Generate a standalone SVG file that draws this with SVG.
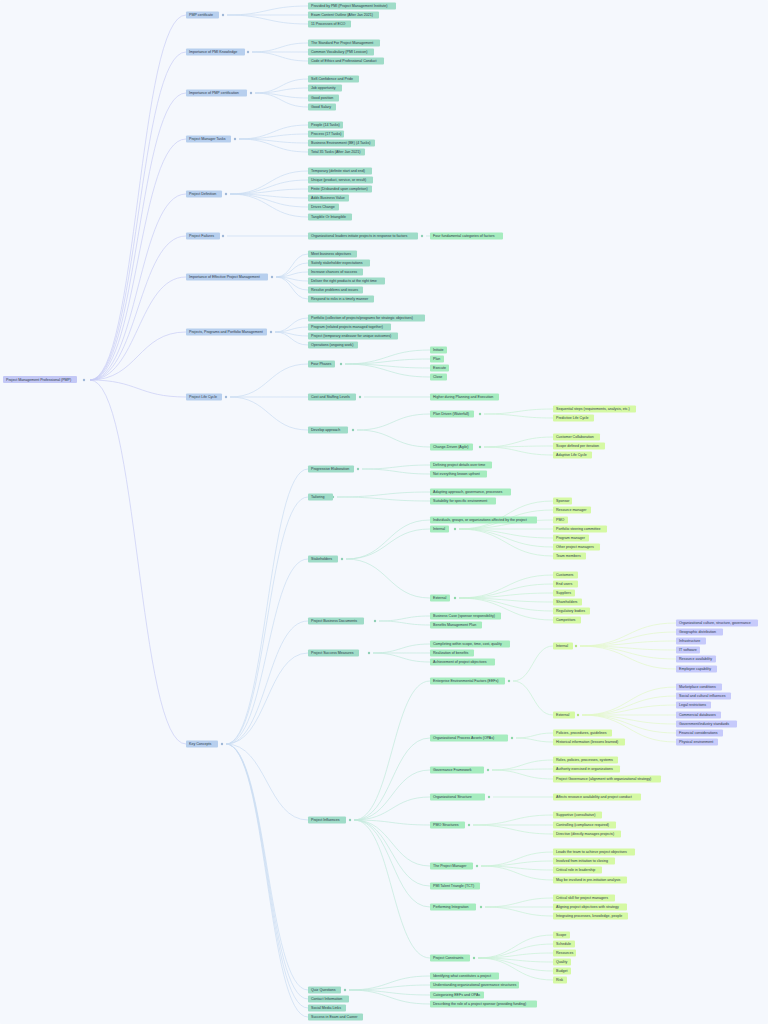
<svg xmlns="http://www.w3.org/2000/svg" width="768" height="1024" viewBox="0 0 768 1024">
<style>
text{font-family:"Liberation Sans",Arial,sans-serif;font-size:3.6px;fill:#2d3a4a}
rect{rx:1;ry:1;height:7px}
.r{fill:#c3c8f6}.b{fill:#b7cfee}.t{fill:#9fdcc8}.g{fill:#a6ecbf}.l{fill:#d5f9a4}.v{fill:#c6cafb}
#connectors path{fill:none;stroke-width:0.7}
.c0{stroke:#c9cdf5}.c1{stroke:#cadcf2}.c2{stroke:#c2eadb}.c3{stroke:#c8f0d6}.c4{stroke:#e2f8c9}
.d{fill:#9fb8d8}.dt{fill:#8fcfb6}.dg{fill:#8ed8a8}.dl{fill:#b6e37e}
</style>
<rect x="0" y="0" width="768" height="1024" style="height:1024px" fill="#f5f8fd"/>
<g id="connectors">
<g class="c0">
<path d="M90 380C138 380 138 15 186 15"/><path d="M90 380C138 380 138 52 186 52"/><path d="M90 380C138 380 138 93 186 93"/><path d="M90 380C138 380 138 139 186 139"/><path d="M90 380C138 380 138 194 186 194"/><path d="M90 380C138 380 138 236 186 236"/><path d="M90 380C138 380 138 277 186 277"/><path d="M90 380C138 380 138 332 186 332"/><path d="M90 380C138 380 138 397 186 397"/><path d="M90 380C138 380 138 744 186 744"/>
</g>
<g class="c1">
<path d="M227 15C267 15 267 6 308 6"/><path d="M227 15C267 15 267 15 308 15"/><path d="M227 15C267 15 267 24 308 24"/>
<path d="M252 52C280 52 280 43 308 43"/><path d="M252 52C280 52 280 52 308 52"/><path d="M252 52C280 52 280 61 308 61"/>
<path d="M255 93C281 93 281 79 308 79"/><path d="M255 93C281 93 281 88 308 88"/><path d="M255 93C281 93 281 98 308 98"/><path d="M255 93C281 93 281 107 308 107"/>
<path d="M239 139C273 139 273 125 308 125"/><path d="M239 139C273 139 273 134 308 134"/><path d="M239 139C273 139 273 143 308 143"/><path d="M239 139C273 139 273 152 308 152"/>
<path d="M230 194C269 194 269 171 308 171"/><path d="M230 194C269 194 269 180 308 180"/><path d="M230 194C269 194 269 189 308 189"/><path d="M230 194C269 194 269 198 308 198"/><path d="M230 194C269 194 269 207 308 207"/><path d="M230 194C269 194 269 217 308 217"/>
<path d="M227 236L308 236"/>
<path d="M276 277C292 277 292 254 308 254"/><path d="M276 277C292 277 292 263 308 263"/><path d="M276 277C292 277 292 272 308 272"/><path d="M276 277C292 277 292 281 308 281"/><path d="M276 277C292 277 292 290 308 290"/><path d="M276 277C292 277 292 299 308 299"/>
<path d="M275 332C291 332 291 318 308 318"/><path d="M275 332C291 332 291 327 308 327"/><path d="M275 332C291 332 291 336 308 336"/><path d="M275 332C291 332 291 345 308 345"/>
<path d="M230 397C269 397 269 364 308 364"/><path d="M230 397C269 397 269 397 308 397"/><path d="M230 397C269 397 269 430 308 430"/>
<path d="M226 744C267 744 267 469 308 469"/><path d="M226 744C267 744 267 497 308 497"/><path d="M226 744C267 744 267 559 308 559"/><path d="M226 744C267 744 267 621 308 621"/><path d="M226 744C267 744 267 653 308 653"/><path d="M226 744C267 744 267 820 308 820"/><path d="M226 744C267 744 267 990 308 990"/><path d="M226 744C267 744 267 999 308 999"/><path d="M226 744C267 744 267 1008 308 1008"/><path d="M226 744C267 744 267 1017 308 1017"/>
</g>
<g class="c2">
<path d="M426 236L430 236"/>
<path d="M345 364C387 364 387 350 430 350"/><path d="M345 364C387 364 387 359 430 359"/><path d="M345 364C387 364 387 368 430 368"/><path d="M345 364C387 364 387 377 430 377"/>
<path d="M364 397L430 397"/>
<path d="M357 430C393 430 393 414 430 414"/><path d="M357 430C393 430 393 447 430 447"/>
<path d="M362 469C396 469 396 465 430 465"/><path d="M362 469C396 469 396 474 430 474"/>
<path d="M337 497C383 497 383 492 430 492"/><path d="M337 497C383 497 383 501 430 501"/>
<path d="M346 559C388 559 388 520 430 520"/><path d="M346 559C388 559 388 529 430 529"/><path d="M346 559C388 559 388 598 430 598"/>
<path d="M379 621C404 621 404 616 430 616"/><path d="M379 621C404 621 404 625 430 625"/>
<path d="M373 653C401 653 401 644 430 644"/><path d="M373 653C401 653 401 653 430 653"/><path d="M373 653C401 653 401 662 430 662"/>
<path d="M354 820C392 820 392 681 430 681"/><path d="M354 820C392 820 392 738 430 738"/><path d="M354 820C392 820 392 770 430 770"/><path d="M354 820C392 820 392 797 430 797"/><path d="M354 820C392 820 392 825 430 825"/><path d="M354 820C392 820 392 866 430 866"/><path d="M354 820C392 820 392 886 430 886"/><path d="M354 820C392 820 392 907 430 907"/><path d="M354 820C392 820 392 958 430 958"/>
<path d="M349 990C389 990 389 976 430 976"/><path d="M349 990C389 990 389 985 430 985"/><path d="M349 990C389 990 389 995 430 995"/><path d="M349 990C389 990 389 1004 430 1004"/>
</g>
<g class="c3">
<path d="M484 414C518 414 518 409 553 409"/><path d="M484 414C518 414 518 418 553 418"/>
<path d="M484 447C518 447 518 437 553 437"/><path d="M484 447C518 447 518 446 553 446"/><path d="M484 447C518 447 518 455 553 455"/>
<path d="M459 529C506 529 506 501 553 501"/><path d="M459 529C506 529 506 510 553 510"/><path d="M459 529C506 529 506 520 553 520"/><path d="M459 529C506 529 506 529 553 529"/><path d="M459 529C506 529 506 538 553 538"/><path d="M459 529C506 529 506 547 553 547"/><path d="M459 529C506 529 506 556 553 556"/>
<path d="M459 598C506 598 506 575 553 575"/><path d="M459 598C506 598 506 584 553 584"/><path d="M459 598C506 598 506 593 553 593"/><path d="M459 598C506 598 506 602 553 602"/><path d="M459 598C506 598 506 611 553 611"/><path d="M459 598C506 598 506 620 553 620"/>
<path d="M513 681C533 681 533 646 553 646"/><path d="M513 681C533 681 533 715 553 715"/>
<path d="M516 738C534 738 534 733 553 733"/><path d="M516 738C534 738 534 742 553 742"/>
<path d="M492 770C522 770 522 760 553 760"/><path d="M492 770C522 770 522 769 553 769"/><path d="M492 770C522 770 522 779 553 779"/>
<path d="M493 797L553 797"/>
<path d="M473 825C513 825 513 815 553 815"/><path d="M473 825C513 825 513 825 553 825"/><path d="M473 825C513 825 513 834 553 834"/>
<path d="M481 866C517 866 517 852 553 852"/><path d="M481 866C517 866 517 861 553 861"/><path d="M481 866C517 866 517 870 553 870"/><path d="M481 866C517 866 517 880 553 880"/>
<path d="M485 907C519 907 519 898 553 898"/><path d="M485 907C519 907 519 907 553 907"/><path d="M485 907C519 907 519 916 553 916"/>
<path d="M478 958C515 958 515 935 553 935"/><path d="M478 958C515 958 515 944 553 944"/><path d="M478 958C515 958 515 953 553 953"/><path d="M478 958C515 958 515 962 553 962"/><path d="M478 958C515 958 515 971 553 971"/><path d="M478 958C515 958 515 980 553 980"/>
</g>
<g class="c4">
<path d="M580 646C628 646 628 623 676 623"/><path d="M580 646C628 646 628 632 676 632"/><path d="M580 646C628 646 628 641 676 641"/><path d="M580 646C628 646 628 650 676 650"/><path d="M580 646C628 646 628 659 676 659"/><path d="M580 646C628 646 628 669 676 669"/>
<path d="M582 715C629 715 629 687 676 687"/><path d="M582 715C629 715 629 696 676 696"/><path d="M582 715C629 715 629 705 676 705"/><path d="M582 715C629 715 629 715 676 715"/><path d="M582 715C629 715 629 724 676 724"/><path d="M582 715C629 715 629 733 676 733"/><path d="M582 715C629 715 629 742 676 742"/>
</g>
<g class="d"><circle cx="84" cy="380" r="1.2"/><circle cx="223" cy="15" r="1.2"/><circle cx="248" cy="52" r="1.2"/><circle cx="251" cy="93" r="1.2"/><circle cx="235" cy="139" r="1.2"/><circle cx="226" cy="194" r="1.2"/><circle cx="223" cy="236" r="1.2"/><circle cx="272" cy="277" r="1.2"/><circle cx="271" cy="332" r="1.2"/><circle cx="226" cy="397" r="1.2"/><circle cx="222" cy="744" r="1.2"/></g>
<g class="dt"><circle cx="422" cy="236" r="1.2"/><circle cx="341" cy="364" r="1.2"/><circle cx="360" cy="397" r="1.2"/><circle cx="353" cy="430" r="1.2"/><circle cx="358" cy="469" r="1.2"/><circle cx="333" cy="497" r="1.2"/><circle cx="342" cy="559" r="1.2"/><circle cx="375" cy="621" r="1.2"/><circle cx="369" cy="653" r="1.2"/><circle cx="350" cy="820" r="1.2"/><circle cx="345" cy="990" r="1.2"/></g>
<g class="dg"><circle cx="480" cy="414" r="1.2"/><circle cx="480" cy="447" r="1.2"/><circle cx="455" cy="529" r="1.2"/><circle cx="455" cy="598" r="1.2"/><circle cx="509" cy="681" r="1.2"/><circle cx="512" cy="738" r="1.2"/><circle cx="488" cy="770" r="1.2"/><circle cx="489" cy="797" r="1.2"/><circle cx="469" cy="825" r="1.2"/><circle cx="477" cy="866" r="1.2"/><circle cx="481" cy="907" r="1.2"/><circle cx="474" cy="958" r="1.2"/></g>
<g class="dl"><circle cx="576" cy="646" r="1.2"/><circle cx="578" cy="715" r="1.2"/></g>
</g>
<g id="root"><rect class="r" x="3" y="376" width="74"/><text x="6" y="380.8">Project Management Professional (PMP)</text></g>
<g id="l1">
<g id="n-cert"><rect class="b" x="186" y="11.5" width="33"/><text x="189" y="16.3">PMP certificate</text></g>
<g id="n-know"><rect class="b" x="186" y="48.5" width="59"/><text x="189" y="53.3">Importance of PMI Knowledge</text></g>
<g id="n-pmpc"><rect class="b" x="186" y="89.5" width="61"/><text x="189" y="94.3">Importance of PMP certification</text></g>
<g id="n-tasks"><rect class="b" x="186" y="135.5" width="45"/><text x="189" y="140.3">Project Manager Tasks</text></g>
<g id="n-def"><rect class="b" x="186" y="190.5" width="36"/><text x="189" y="195.3">Project Definition</text></g>
<g id="n-fail"><rect class="b" x="186" y="232.5" width="34"/><text x="189" y="237.3">Project Failures</text></g>
<g id="n-eff"><rect class="b" x="186" y="273.5" width="82"/><text x="189" y="278.3">Importance of Effective Project Management</text></g>
<g id="n-ppp"><rect class="b" x="186" y="328.5" width="81"/><text x="189" y="333.3">Projects, Programs and Portfolio Management</text></g>
<g id="n-plc"><rect class="b" x="186" y="393.5" width="36"/><text x="189" y="398.3">Project Life Cycle</text></g>
<g id="n-key"><rect class="b" x="186" y="740.5" width="32"/><text x="189" y="745.3">Key Concepts</text></g>
</g>
<g id="l2" class="t">
<g id="a1"><rect class="t" x="308" y="2.5" width="88"/><text x="311" y="7.3">Provided by PMI (Project Management Institute)</text></g>
<g id="a2"><rect class="t" x="308" y="11.5" width="71"/><text x="311" y="16.3">Exam Content Outline (After Jan 2021)</text></g>
<g id="a3"><rect class="t" x="308" y="20.5" width="43"/><text x="311" y="25.3">11 Processes of ECO</text></g>
<g id="b1"><rect class="t" x="308" y="39.5" width="72"/><text x="311" y="44.3">The Standard For Project Management</text></g>
<g id="b2"><rect class="t" x="308" y="48.5" width="66"/><text x="311" y="53.3">Common Vocabulary (PMI Lexicon)</text></g>
<g id="b3"><rect class="t" x="308" y="57.5" width="76"/><text x="311" y="62.3">Code of Ethics and Professional Conduct</text></g>
<g id="c1"><rect class="t" x="308" y="75.5" width="51"/><text x="311" y="80.3">Self-Confidence and Pride</text></g>
<g id="c2"><rect class="t" x="308" y="84.5" width="34"/><text x="311" y="89.3">Job opportunity</text></g>
<g id="c3"><rect class="t" x="308" y="94.5" width="31"/><text x="311" y="99.3">Good position</text></g>
<g id="c4"><rect class="t" x="308" y="103.5" width="28"/><text x="311" y="108.3">Good Salary</text></g>
<g id="d1"><rect class="t" x="308" y="121.5" width="35"/><text x="311" y="126.3">People (14 Tasks)</text></g>
<g id="d2"><rect class="t" x="308" y="130.5" width="36"/><text x="311" y="135.3">Process (17 Tasks)</text></g>
<g id="d3"><rect class="t" x="308" y="139.5" width="67"/><text x="311" y="144.3">Business Environment (BE) (4 Tasks)</text></g>
<g id="d4"><rect class="t" x="308" y="148.5" width="57"/><text x="311" y="153.3">Total 35 Tasks (After Jan 2021)</text></g>
<g id="e1"><rect class="t" x="308" y="167.5" width="64"/><text x="311" y="172.3">Temporary (definite start and end)</text></g>
<g id="e2"><rect class="t" x="308" y="176.5" width="65"/><text x="311" y="181.3">Unique (product, service, or result)</text></g>
<g id="e3"><rect class="t" x="308" y="185.5" width="64"/><text x="311" y="190.3">Finite (Disbanded upon completion)</text></g>
<g id="e4"><rect class="t" x="308" y="194.5" width="41"/><text x="311" y="199.3">Adds Business Value</text></g>
<g id="e5"><rect class="t" x="308" y="203.5" width="31"/><text x="311" y="208.3">Drives Change</text></g>
<g id="e6"><rect class="t" x="308" y="213.5" width="44"/><text x="311" y="218.3">Tangible Or Intangible</text></g>
<g id="f1"><rect class="t" x="308" y="232.5" width="110"/><text x="311" y="237.3">Organizational leaders initiate projects in response to factors</text></g>
<g id="g1"><rect class="t" x="308" y="250.5" width="49"/><text x="311" y="255.3">Meet business objectives</text></g>
<g id="g2"><rect class="t" x="308" y="259.5" width="62"/><text x="311" y="264.3">Satisfy stakeholder expectations</text></g>
<g id="g3"><rect class="t" x="308" y="268.5" width="55"/><text x="311" y="273.3">Increase chances of success</text></g>
<g id="g4"><rect class="t" x="308" y="277.5" width="77"/><text x="311" y="282.3">Deliver the right products at the right time</text></g>
<g id="g5"><rect class="t" x="308" y="286.5" width="55"/><text x="311" y="291.3">Resolve problems and issues</text></g>
<g id="g6"><rect class="t" x="308" y="295.5" width="66"/><text x="311" y="300.3">Respond to risks in a timely manner</text></g>
<g id="h1"><rect class="t" x="308" y="314.5" width="117"/><text x="311" y="319.3">Portfolio (collection of projects/programs for strategic objectives)</text></g>
<g id="h2"><rect class="t" x="308" y="323.5" width="83"/><text x="311" y="328.3">Program (related projects managed together)</text></g>
<g id="h3"><rect class="t" x="308" y="332.5" width="90"/><text x="311" y="337.3">Project (temporary endeavor for unique outcomes)</text></g>
<g id="h4"><rect class="t" x="308" y="341.5" width="50"/><text x="311" y="346.3">Operations (ongoing work)</text></g>
<g id="i1"><rect class="t" x="308" y="360.5" width="27"/><text x="311" y="365.3">Four Phases</text></g>
<g id="i2"><rect class="t" x="308" y="393.5" width="48"/><text x="311" y="398.3">Cost and Staffing Levels</text></g>
<g id="i3"><rect class="t" x="308" y="426.5" width="40"/><text x="311" y="431.3">Develop approach</text></g>
<g id="k1"><rect class="t" x="308" y="465.5" width="46"/><text x="311" y="470.3">Progressive Elaboration</text></g>
<g id="k2"><rect class="t" x="308" y="493.5" width="25"/><text x="311" y="498.3">Tailoring</text></g>
<g id="k3"><rect class="t" x="308" y="555.5" width="30"/><text x="311" y="560.3">Stakeholders</text></g>
<g id="k4"><rect class="t" x="308" y="617.5" width="56"/><text x="311" y="622.3">Project Business Documents</text></g>
<g id="k5"><rect class="t" x="308" y="649.5" width="51"/><text x="311" y="654.3">Project Success Measures</text></g>
<g id="k6"><rect class="t" x="308" y="816.5" width="38"/><text x="311" y="821.3">Project Influences</text></g>
<g id="k7"><rect class="t" x="308" y="986.5" width="33"/><text x="311" y="991.3">Quiz Questions</text></g>
<g id="k8"><rect class="t" x="308" y="995.5" width="41"/><text x="311" y="1000.3">Contact Information</text></g>
<g id="k9"><rect class="t" x="308" y="1004.5" width="38"/><text x="311" y="1009.3">Social Media Links</text></g>
<g id="k10"><rect class="t" x="308" y="1013.5" width="55"/><text x="311" y="1018.3">Success in Exam and Career</text></g>
</g>
<g id="l3">
<g id="m1"><rect class="g" x="430" y="232.5" width="73"/><text x="433" y="237.3">Four fundamental categories of factors</text></g>
<g id="m2"><rect class="g" x="430" y="346.5" width="17"/><text x="433" y="351.3">Initiate</text></g>
<g id="m3"><rect class="g" x="430" y="355.5" width="14"/><text x="433" y="360.3">Plan</text></g>
<g id="m4"><rect class="g" x="430" y="364.5" width="19"/><text x="433" y="369.3">Execute</text></g>
<g id="m5"><rect class="g" x="430" y="373.5" width="17"/><text x="433" y="378.3">Close</text></g>
<g id="m6"><rect class="g" x="430" y="393.5" width="69"/><text x="433" y="398.3">Higher during Planning and Execution</text></g>
<g id="m7"><rect class="g" x="430" y="410.5" width="44"/><text x="433" y="415.3">Plan Driven (Waterfall)</text></g>
<g id="m8"><rect class="g" x="430" y="443.5" width="43"/><text x="433" y="448.3">Change-Driven (Agile)</text></g>
<g id="m9"><rect class="g" x="430" y="461.5" width="62"/><text x="433" y="466.3">Defining project details over time</text></g>
<g id="m10"><rect class="g" x="430" y="470.5" width="57"/><text x="433" y="475.3">Not everything known upfront</text></g>
<g id="m11"><rect class="g" x="430" y="488.5" width="81"/><text x="433" y="493.3">Adapting approach, governance, processes</text></g>
<g id="m12"><rect class="g" x="430" y="497.5" width="66"/><text x="433" y="502.3">Suitability for specific environment</text></g>
<g id="m13"><rect class="g" x="430" y="516.5" width="107"/><text x="433" y="521.3">Individuals, groups, or organizations affected by the project</text></g>
<g id="m14"><rect class="g" x="430" y="525.5" width="19"/><text x="433" y="530.3">Internal</text></g>
<g id="m15"><rect class="g" x="430" y="594.5" width="20"/><text x="433" y="599.3">External</text></g>
<g id="m16"><rect class="g" x="430" y="612.5" width="71"/><text x="433" y="617.3">Business Case (sponsor responsibility)</text></g>
<g id="m17"><rect class="g" x="430" y="621.5" width="52"/><text x="433" y="626.3">Benefits Management Plan</text></g>
<g id="m18"><rect class="g" x="430" y="640.5" width="80"/><text x="433" y="645.3">Completing within scope, time, cost, quality</text></g>
<g id="m19"><rect class="g" x="430" y="649.5" width="44"/><text x="433" y="654.3">Realization of benefits</text></g>
<g id="m20"><rect class="g" x="430" y="658.5" width="65"/><text x="433" y="663.3">Achievement of project objectives</text></g>
<g id="m21"><rect class="g" x="430" y="677.5" width="75"/><text x="433" y="682.3">Enterprise Environmental Factors (EEFs)</text></g>
<g id="m22"><rect class="g" x="430" y="734.5" width="78"/><text x="433" y="739.3">Organizational Process Assets (OPAs)</text></g>
<g id="m23"><rect class="g" x="430" y="766.5" width="54"/><text x="433" y="771.3">Governance Framework</text></g>
<g id="m24"><rect class="g" x="430" y="793.5" width="55"/><text x="433" y="798.3">Organizational Structure</text></g>
<g id="m25"><rect class="g" x="430" y="821.5" width="35"/><text x="433" y="826.3">PMO Structures</text></g>
<g id="m26"><rect class="g" x="430" y="862.5" width="43"/><text x="433" y="867.3">The Project Manager</text></g>
<g id="m27"><rect class="g" x="430" y="882.5" width="50"/><text x="433" y="887.3">PMI Talent Triangle (TCT)</text></g>
<g id="m28"><rect class="g" x="430" y="903.5" width="46"/><text x="433" y="908.3">Performing Integration</text></g>
<g id="m29"><rect class="g" x="430" y="954.5" width="40"/><text x="433" y="959.3">Project Constraints</text></g>
<g id="m30"><rect class="g" x="430" y="972.5" width="69"/><text x="433" y="977.3">Identifying what constitutes a project</text></g>
<g id="m31"><rect class="g" x="430" y="981.5" width="89"/><text x="433" y="986.3">Understanding organizational governance structures</text></g>
<g id="m32"><rect class="g" x="430" y="991.5" width="54"/><text x="433" y="996.3">Categorizing EEFs and OPAs</text></g>
<g id="m33"><rect class="g" x="430" y="1000.5" width="107"/><text x="433" y="1005.3">Describing the role of a project sponsor (providing funding)</text></g>
</g>
<g id="l4">
<g id="p1"><rect class="l" x="553" y="405.5" width="83"/><text x="556" y="410.3">Sequential steps (requirements, analysis, etc.)</text></g>
<g id="p2"><rect class="l" x="553" y="414.5" width="41"/><text x="556" y="419.3">Predictive Life Cycle</text></g>
<g id="p3"><rect class="l" x="553" y="433.5" width="47"/><text x="556" y="438.3">Customer Collaboration</text></g>
<g id="p4"><rect class="l" x="553" y="442.5" width="52"/><text x="556" y="447.3">Scope defined per iteration</text></g>
<g id="p5"><rect class="l" x="553" y="451.5" width="39"/><text x="556" y="456.3">Adaptive Life Cycle</text></g>
<g id="p6"><rect class="l" x="553" y="497.5" width="19"/><text x="556" y="502.3">Sponsor</text></g>
<g id="p7"><rect class="l" x="553" y="506.5" width="38"/><text x="556" y="511.3">Resource manager</text></g>
<g id="p8"><rect class="l" x="553" y="516.5" width="15"/><text x="556" y="521.3">PMO</text></g>
<g id="p9"><rect class="l" x="553" y="525.5" width="54"/><text x="556" y="530.3">Portfolio steering committee</text></g>
<g id="p10"><rect class="l" x="553" y="534.5" width="36"/><text x="556" y="539.3">Program manager</text></g>
<g id="p11"><rect class="l" x="553" y="543.5" width="47"/><text x="556" y="548.3">Other project managers</text></g>
<g id="p12"><rect class="l" x="553" y="552.5" width="33"/><text x="556" y="557.3">Team members</text></g>
<g id="p13"><rect class="l" x="553" y="571.5" width="25"/><text x="556" y="576.3">Customers</text></g>
<g id="p14"><rect class="l" x="553" y="580.5" width="25"/><text x="556" y="585.3">End users</text></g>
<g id="p15"><rect class="l" x="553" y="589.5" width="22"/><text x="556" y="594.3">Suppliers</text></g>
<g id="p16"><rect class="l" x="553" y="598.5" width="29"/><text x="556" y="603.3">Shareholders</text></g>
<g id="p17"><rect class="l" x="553" y="607.5" width="37"/><text x="556" y="612.3">Regulatory bodies</text></g>
<g id="p18"><rect class="l" x="553" y="616.5" width="28"/><text x="556" y="621.3">Competitors</text></g>
<g id="p19"><rect class="l" x="553" y="642.5" width="20"/><text x="556" y="647.3">Internal</text></g>
<g id="p20"><rect class="l" x="553" y="711.5" width="22"/><text x="556" y="716.3">External</text></g>
<g id="p21"><rect class="l" x="553" y="729.5" width="59"/><text x="556" y="734.3">Policies, procedures, guidelines</text></g>
<g id="p22"><rect class="l" x="553" y="738.5" width="72"/><text x="556" y="743.3">Historical information (lessons learned)</text></g>
<g id="p23"><rect class="l" x="553" y="756.5" width="65"/><text x="556" y="761.3">Roles, policies, processes, systems</text></g>
<g id="p24"><rect class="l" x="553" y="765.5" width="67"/><text x="556" y="770.3">Authority exercised in organizations</text></g>
<g id="p25"><rect class="l" x="553" y="775.5" width="108"/><text x="556" y="780.3">Project Governance (alignment with organizational strategy)</text></g>
<g id="p26"><rect class="l" x="553" y="793.5" width="88"/><text x="556" y="798.3">Affects resource availability and project conduct</text></g>
<g id="p27"><rect class="l" x="553" y="811.5" width="49"/><text x="556" y="816.3">Supportive (consultative)</text></g>
<g id="p28"><rect class="l" x="553" y="821.5" width="63"/><text x="556" y="826.3">Controlling (compliance required)</text></g>
<g id="p29"><rect class="l" x="553" y="830.5" width="68"/><text x="556" y="835.3">Directive (directly manages projects)</text></g>
<g id="p30"><rect class="l" x="553" y="848.5" width="82"/><text x="556" y="853.3">Leads the team to achieve project objectives</text></g>
<g id="p31"><rect class="l" x="553" y="857.5" width="62"/><text x="556" y="862.3">Involved from initiation to closing</text></g>
<g id="p32"><rect class="l" x="553" y="866.5" width="49"/><text x="556" y="871.3">Critical role in leadership</text></g>
<g id="p33"><rect class="l" x="553" y="876.5" width="74"/><text x="556" y="881.3">May be involved in pre-initiation analysis</text></g>
<g id="p34"><rect class="l" x="553" y="894.5" width="62"/><text x="556" y="899.3">Critical skill for project managers</text></g>
<g id="p35"><rect class="l" x="553" y="903.5" width="74"/><text x="556" y="908.3">Aligning project objectives with strategy</text></g>
<g id="p36"><rect class="l" x="553" y="912.5" width="75"/><text x="556" y="917.3">Integrating processes, knowledge, people</text></g>
<g id="p37"><rect class="l" x="553" y="931.5" width="17"/><text x="556" y="936.3">Scope</text></g>
<g id="p38"><rect class="l" x="553" y="940.5" width="22"/><text x="556" y="945.3">Schedule</text></g>
<g id="p39"><rect class="l" x="553" y="949.5" width="23"/><text x="556" y="954.3">Resources</text></g>
<g id="p40"><rect class="l" x="553" y="958.5" width="18"/><text x="556" y="963.3">Quality</text></g>
<g id="p41"><rect class="l" x="553" y="967.5" width="18"/><text x="556" y="972.3">Budget</text></g>
<g id="p42"><rect class="l" x="553" y="976.5" width="14"/><text x="556" y="981.3">Risk</text></g>
</g>
<g id="l5">
<g id="q1"><rect class="v" x="676" y="619.5" width="82"/><text x="679" y="624.3">Organizational culture, structure, governance</text></g>
<g id="q2"><rect class="v" x="676" y="628.5" width="47"/><text x="679" y="633.3">Geographic distribution</text></g>
<g id="q3"><rect class="v" x="676" y="637.5" width="30"/><text x="679" y="642.3">Infrastructure</text></g>
<g id="q4"><rect class="v" x="676" y="646.5" width="24"/><text x="679" y="651.3">IT software</text></g>
<g id="q5"><rect class="v" x="676" y="655.5" width="40"/><text x="679" y="660.3">Resource availability</text></g>
<g id="q6"><rect class="v" x="676" y="665.5" width="41"/><text x="679" y="670.3">Employee capability</text></g>
<g id="q7"><rect class="v" x="676" y="683.5" width="46"/><text x="679" y="688.3">Marketplace conditions</text></g>
<g id="q8"><rect class="v" x="676" y="692.5" width="55"/><text x="679" y="697.3">Social and cultural influences</text></g>
<g id="q9"><rect class="v" x="676" y="701.5" width="35"/><text x="679" y="706.3">Legal restrictions</text></g>
<g id="q10"><rect class="v" x="676" y="711.5" width="45"/><text x="679" y="716.3">Commercial databases</text></g>
<g id="q11"><rect class="v" x="676" y="720.5" width="61"/><text x="679" y="725.3">Government/industry standards</text></g>
<g id="q12"><rect class="v" x="676" y="729.5" width="47"/><text x="679" y="734.3">Financial considerations</text></g>
<g id="q13"><rect class="v" x="676" y="738.5" width="42"/><text x="679" y="743.3">Physical environment</text></g>
</g>
</svg>
